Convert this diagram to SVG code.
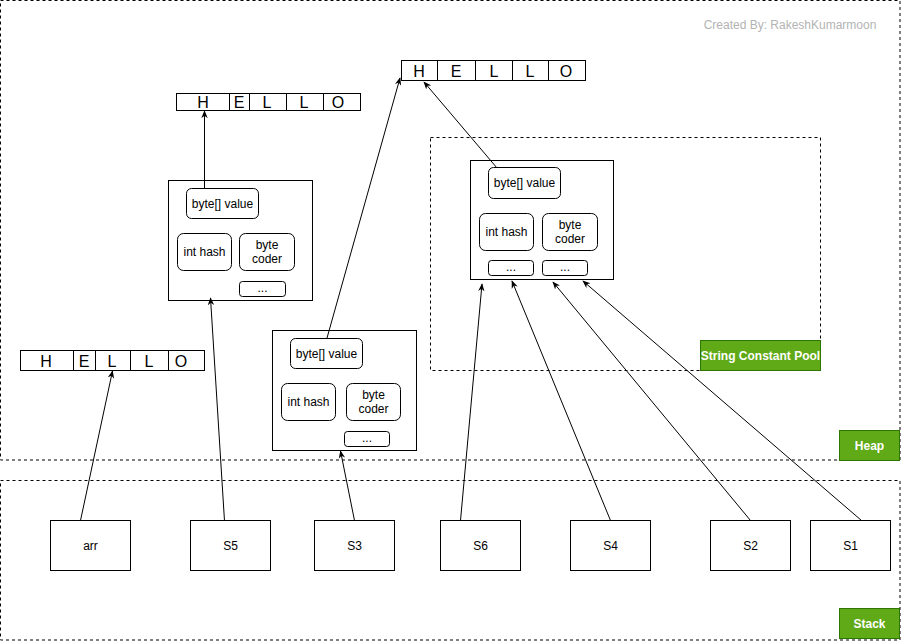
<svg xmlns="http://www.w3.org/2000/svg" width="901" height="641" viewBox="0 0 901 641">
<style>
text{font-family:"Liberation Sans",Arial,sans-serif;fill:#000;text-anchor:middle;dominant-baseline:central}
.zone{fill:none;stroke:#000;stroke-dasharray:3 3}
.box{fill:#fff;stroke:#000}
.rb{fill:#fff;stroke:#000}
.t12{font-size:12px}
.t16{font-size:16px}
.lbl{fill:#60a917;stroke:#2d7600}
.lt{fill:#fff;font-weight:bold;font-size:12px}
.conn{fill:none;stroke:#000;stroke-width:1;marker-end:url(#ah)}
</style>
<defs>
<marker id="ah" viewBox="0 0 10 10" refX="9" refY="5" markerWidth="8" markerHeight="8" markerUnits="userSpaceOnUse" orient="auto">
<path d="M0,1 L10,5 L0,9 L3,5 z" fill="#000"/>
</marker>
</defs>
<rect width="901" height="641" fill="#fff"/>
<g id="heap">
<rect class="zone" x="0.5" y="0.5" width="899.5" height="459.5"/>
<rect class="lbl" x="839.5" y="430.5" width="60" height="30"/>
<text class="lt" x="869.5" y="445.5">Heap</text>
</g>
<g id="stack">
<rect class="zone" x="0.5" y="480.5" width="899.5" height="159.5"/>
<rect class="lbl" x="839.5" y="608.5" width="60" height="30"/>
<text class="lt" x="869.5" y="623.5">Stack</text>
</g>
<g id="pool">
<rect class="zone" x="430.5" y="137.5" width="390" height="233"/>
<rect class="lbl" x="700.5" y="340.5" width="120" height="30"/>
<text class="lt" x="760.5" y="355.5">String Constant Pool</text>
</g>
<g id="credit">
<text x="790" y="25" style="font-size:12px;fill:#b3b3b3">Created By: RakeshKumarmoon</text>
</g>
<g id="array-top">
<rect class="box" x="176.5" y="93.5" width="184" height="17"/>
<path d="M229.5,93.5V110.5M249.5,93.5V110.5M286.5,93.5V110.5M323.5,93.5V110.5" stroke="#000"/>
<text class="t16" x="203" y="102">H</text>
<text class="t16" x="239" y="102">E</text>
<text class="t16" x="267" y="102">L</text>
<text class="t16" x="304" y="102">L</text>
<text class="t16" x="338" y="102">O</text>
</g>
<g id="array-left">
<rect class="box" x="20.5" y="350.5" width="184" height="20"/>
<path d="M73.5,350.5V370.5M95.5,350.5V370.5M130.5,350.5V370.5M168.5,350.5V370.5" stroke="#000"/>
<text class="t16" x="46" y="361">H</text>
<text class="t16" x="84" y="361">E</text>
<text class="t16" x="112" y="361">L</text>
<text class="t16" x="149" y="361">L</text>
<text class="t16" x="181" y="361">O</text>
</g>
<g id="array-mid">
<rect class="box" x="401.5" y="60.5" width="184" height="20"/>
<path d="M437.5,60.5V80.5M475.5,60.5V80.5M512.5,60.5V80.5M548.5,60.5V80.5" stroke="#000"/>
<text class="t16" x="419" y="71">H</text>
<text class="t16" x="456" y="71">E</text>
<text class="t16" x="494" y="71">L</text>
<text class="t16" x="530" y="71">L</text>
<text class="t16" x="566" y="71">O</text>
</g>
<g id="obj1">
<rect class="box" x="168.5" y="180.5" width="144" height="120"/>
<rect class="rb" x="186.5" y="188.5" width="72" height="30" rx="5"/>
<text class="t12" x="222.5" y="203.5">byte[] value</text>
<rect class="rb" x="177.5" y="233.5" width="54" height="37" rx="6"/>
<text class="t12" x="204.5" y="252">int hash</text>
<rect class="rb" x="239.5" y="233.5" width="55" height="37" rx="6"/>
<text class="t12" x="267" y="245">byte</text>
<text class="t12" x="267" y="259">coder</text>
<rect class="rb" x="239.5" y="281.5" width="46" height="15" rx="3"/>
<text class="t12" x="262.5" y="288">...</text>
</g>
<g id="obj2">
<rect class="box" x="272.5" y="330.5" width="144" height="120"/>
<rect class="rb" x="290.5" y="338.5" width="72" height="30" rx="5"/>
<text class="t12" x="326.5" y="353.5">byte[] value</text>
<rect class="rb" x="281.5" y="383.5" width="54" height="37" rx="6"/>
<text class="t12" x="308.5" y="402">int hash</text>
<rect class="rb" x="346.5" y="383.5" width="54" height="37" rx="6"/>
<text class="t12" x="373.5" y="395">byte</text>
<text class="t12" x="373.5" y="409">coder</text>
<rect class="rb" x="344.5" y="431.5" width="45" height="15" rx="3"/>
<text class="t12" x="367" y="438">...</text>
</g>
<g id="obj3">
<rect class="box" x="470.5" y="160.5" width="143" height="119"/>
<rect class="rb" x="488.5" y="167.5" width="72" height="31" rx="5"/>
<text class="t12" x="524.5" y="183">byte[] value</text>
<rect class="rb" x="479.5" y="213.5" width="54" height="37" rx="6"/>
<text class="t12" x="506.5" y="232">int hash</text>
<rect class="rb" x="542.5" y="213.5" width="55" height="37" rx="6"/>
<text class="t12" x="570" y="225">byte</text>
<text class="t12" x="570" y="239">coder</text>
<rect class="rb" x="488.5" y="260.5" width="45" height="15" rx="3"/>
<text class="t12" x="511" y="267">...</text>
<rect class="rb" x="542.5" y="260.5" width="45" height="15" rx="3"/>
<text class="t12" x="565" y="267">...</text>
</g>
<g id="arr"><rect class="box" x="50.5" y="520.5" width="80" height="50"/><text class="t12" x="90.5" y="545.5">arr</text></g>
<g id="S5"><rect class="box" x="190.5" y="520.5" width="80" height="50"/><text class="t12" x="230.5" y="545.5">S5</text></g>
<g id="S3"><rect class="box" x="314.5" y="520.5" width="80" height="50"/><text class="t12" x="354.5" y="545.5">S3</text></g>
<g id="S6"><rect class="box" x="440.5" y="520.5" width="80" height="50"/><text class="t12" x="480.5" y="545.5">S6</text></g>
<g id="S4"><rect class="box" x="570.5" y="520.5" width="80" height="50"/><text class="t12" x="610.5" y="545.5">S4</text></g>
<g id="S2"><rect class="box" x="710.5" y="520.5" width="80" height="50"/><text class="t12" x="750.5" y="545.5">S2</text></g>
<g id="S1"><rect class="box" x="810.5" y="520.5" width="80" height="50"/><text class="t12" x="850.5" y="545.5">S1</text></g>
<g id="connectors">
<path class="conn" d="M80.5,520.5 L112.5,371"/>
<path class="conn" d="M224.5,521 L210.5,298"/>
<path class="conn" d="M354.5,520.5 L340.5,451"/>
<path class="conn" d="M327,338 L400,78"/>
<path class="conn" d="M204.5,188 L204.5,111"/>
<path class="conn" d="M497,168 L424,82"/>
<path class="conn" d="M460.5,520.5 L482,284"/>
<path class="conn" d="M610.5,520.5 L512,281"/>
<path class="conn" d="M750.5,520.5 L553,282"/>
<path class="conn" d="M861.5,520.5 L583,281"/>
</g>
</svg>
